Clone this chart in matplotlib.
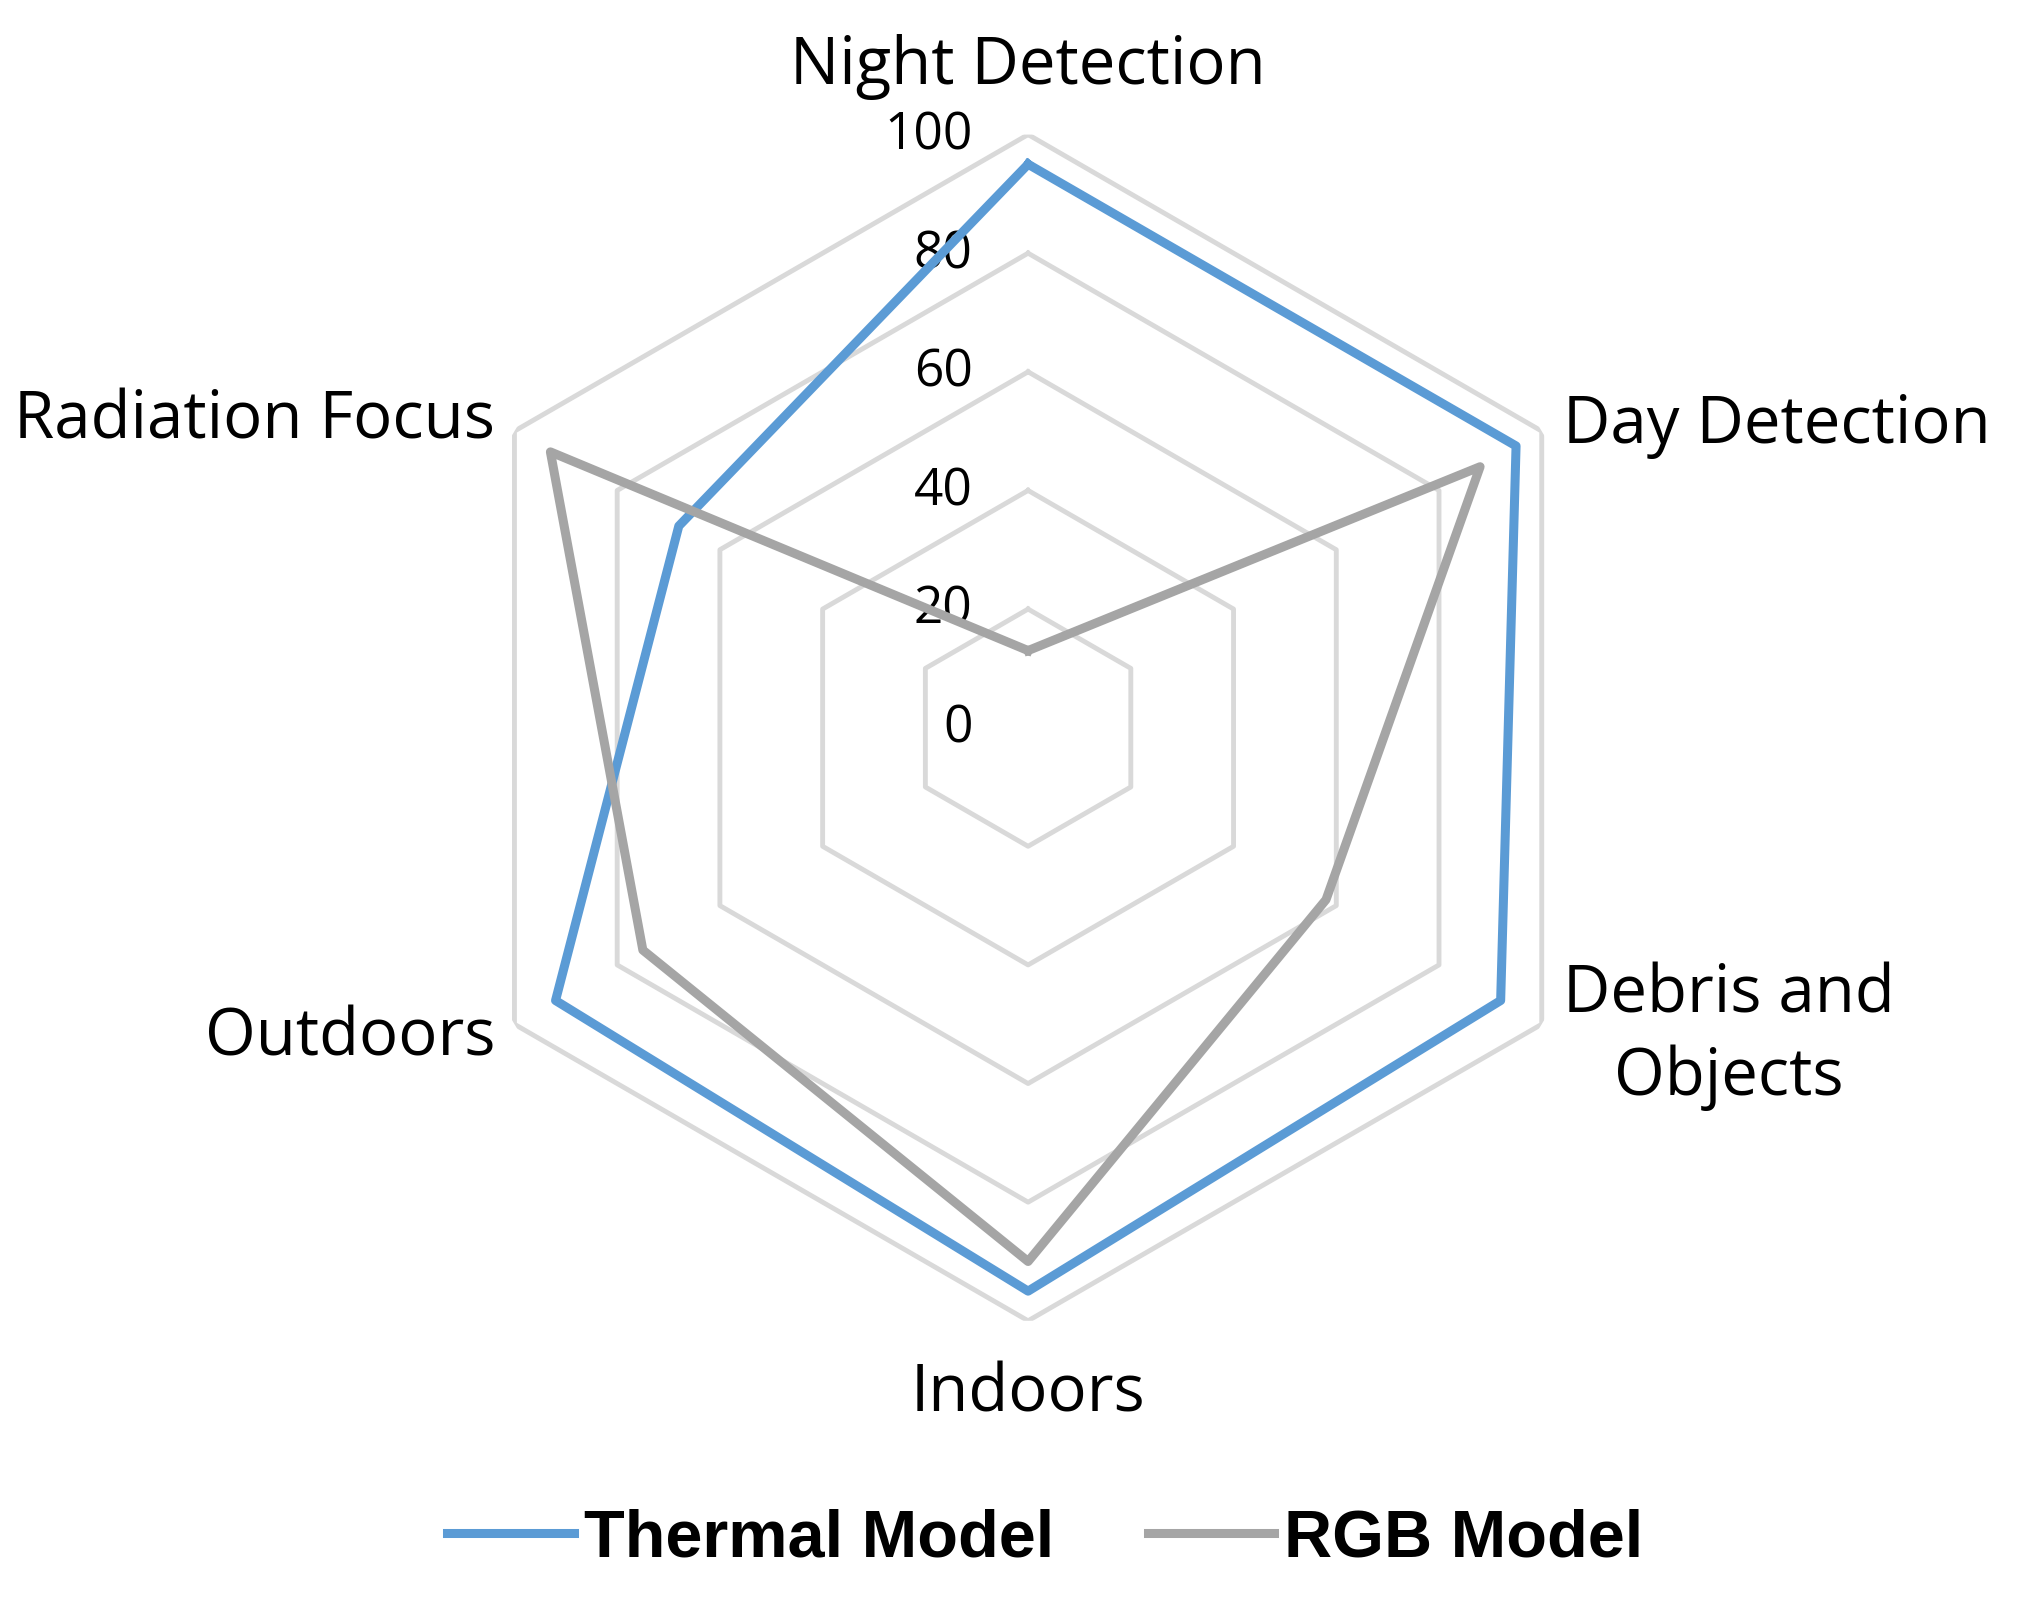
import matplotlib
matplotlib.use('Agg')
import matplotlib.pyplot as plt
import numpy as np
from matplotlib.font_manager import FontProperties

categorias = ['Night Detection', 'Day Detection', 'Debris and\nObjects',
              'Indoors', 'Outdoors', 'Radiation Focus']
thermal = [95, 95, 92, 95, 92, 68]
rgb = [13, 88, 58, 90, 75, 93]
aneis = [20, 40, 60, 80, 100]
rotulos_r = [0, 20, 40, 60, 80, 100]

cor_thermal = '#5B9BD5'
cor_rgb = '#A5A5A5'
cor_grade = '#D9D9D9'

n = len(categorias)
ang = np.linspace(0, 2*np.pi, n, endpoint=False)
ang_f = np.append(ang, ang[0])
fecha = lambda v: np.append(v, v[0])

fig = plt.figure(figsize=(20.26, 16), dpi=100)
ax = fig.add_axes([0.2147, 0.1745, 0.5855, 0.7414], projection='polar')
ax.set_theta_offset(np.pi/2)
ax.set_theta_direction(-1)
ax.set_ylim(0, 100)
ax.grid(False)
ax.set_xticks([])
ax.set_yticks([])
ax.spines['polar'].set_visible(False)

# grade hexagonal
for a in aneis:
    ax.plot(ang_f, [a]*(n+1), color=cor_grade, lw=3.5, zorder=1)

ax.plot(ang_f, fecha(thermal), color=cor_thermal, lw=6.5, label='Thermal Model', zorder=3)
ax.plot(ang_f, fecha(rgb), color=cor_rgb, lw=6.5, label='RGB Model', zorder=3)

fonte = 'Open Sans'
for v in rotulos_r:
    ax.annotate(str(v), xy=(0, v), xytext=(-40, -1), textcoords='offset points',
                ha='right', va='center', fontsize=37, family=fonte, zorder=2)

# posicao dos rotulos das categorias (offset em pontos, alinhamentos)
offs = [(0, 49), (15, 4), (15, -9), (0, -53), (-14, -10), (-14, 7)]
has = ['center', 'left', 'left', 'center', 'right', 'right']
for k in range(n):
    ax.annotate(categorias[k], xy=(ang[k], 100), xytext=offs[k], textcoords='offset points',
                ha=has[k], va='center', multialignment='center', linespacing=1.3,
                fontsize=47, family=fonte, annotation_clip=False)

prop = FontProperties(family='Liberation Sans', weight='bold', size=48)
fig.legend(loc='center', bbox_to_anchor=(0.516, 0.038), ncol=2, frameon=False, prop=prop,
           handlelength=1.9, handletextpad=0.15, columnspacing=1.4)

plt.savefig('out.png', dpi=100, facecolor='white')
